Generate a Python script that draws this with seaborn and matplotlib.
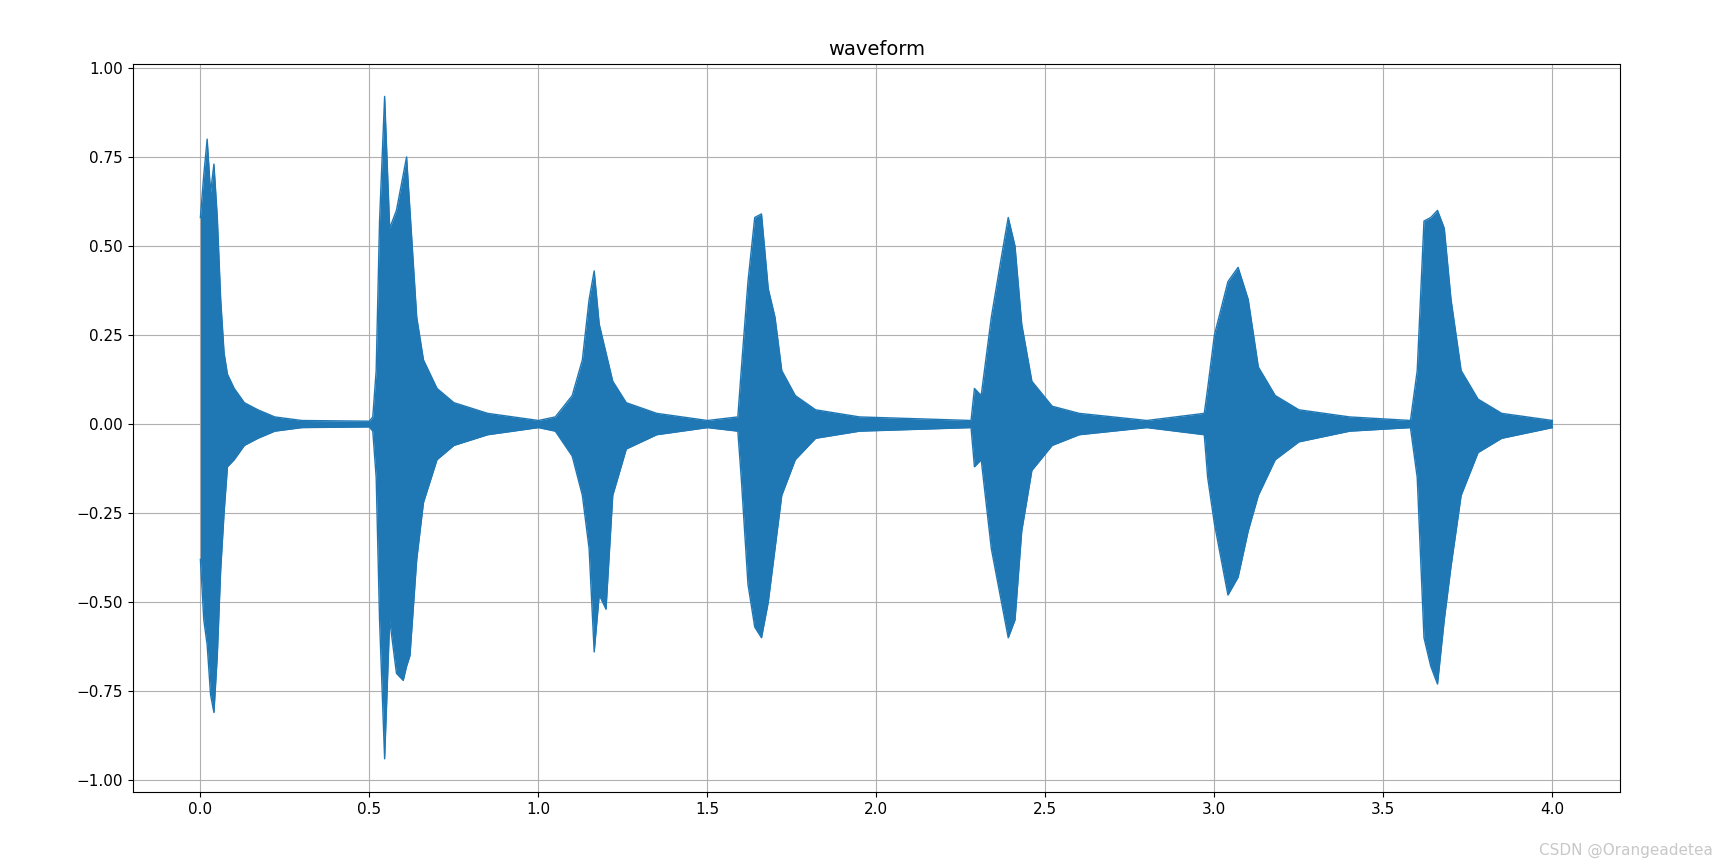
import numpy as np
import pandas as pd
import matplotlib
matplotlib.use("Agg")
import matplotlib.pyplot as plt
import seaborn as sns

# Amplitude envelope (seconds, upper, lower)
times = [0.0, 0.01, 0.02, 0.03, 0.04, 0.05, 0.06, 0.07, 0.08, 0.10, 0.13, 0.17, 0.22, 0.30, 0.50,
         0.51, 0.52, 0.53, 0.545, 0.56, 0.58, 0.60, 0.61, 0.62, 0.64, 0.66, 0.70, 0.75, 0.85, 1.00,
         1.05, 1.10, 1.13, 1.15, 1.165, 1.18, 1.20, 1.22, 1.26, 1.35, 1.50,
         1.59, 1.60, 1.62, 1.64, 1.66, 1.68, 1.70, 1.72, 1.76, 1.82, 1.95, 2.28,
         2.29, 2.31, 2.34, 2.37, 2.39, 2.41, 2.43, 2.46, 2.52, 2.60, 2.80,
         2.97, 2.98, 3.00, 3.04, 3.07, 3.10, 3.13, 3.18, 3.25, 3.40, 3.58,
         3.60, 3.62, 3.64, 3.66, 3.68, 3.70, 3.73, 3.78, 3.85, 4.00]
upper = [0.58, 0.70, 0.80, 0.65, 0.73, 0.58, 0.35, 0.20, 0.14, 0.10, 0.06, 0.04, 0.02, 0.01, 0.008,
         0.02, 0.15, 0.57, 0.92, 0.55, 0.60, 0.70, 0.75, 0.60, 0.30, 0.18, 0.10, 0.06, 0.03, 0.01,
         0.02, 0.08, 0.18, 0.35, 0.43, 0.28, 0.20, 0.12, 0.06, 0.03, 0.01,
         0.02, 0.15, 0.40, 0.58, 0.59, 0.38, 0.30, 0.15, 0.08, 0.04, 0.02, 0.01,
         0.10, 0.08, 0.30, 0.47, 0.58, 0.50, 0.28, 0.12, 0.05, 0.03, 0.01,
         0.03, 0.10, 0.25, 0.40, 0.44, 0.35, 0.16, 0.08, 0.04, 0.02, 0.01,
         0.15, 0.57, 0.58, 0.60, 0.55, 0.35, 0.15, 0.07, 0.03, 0.01]
lower = [-0.38, -0.55, -0.62, -0.76, -0.81, -0.65, -0.41, -0.25, -0.12, -0.10, -0.06, -0.04, -0.02, -0.01, -0.008,
         -0.02, -0.15, -0.55, -0.94, -0.55, -0.70, -0.72, -0.68, -0.65, -0.38, -0.22, -0.10, -0.06, -0.03, -0.01,
         -0.02, -0.09, -0.20, -0.35, -0.64, -0.48, -0.52, -0.20, -0.07, -0.03, -0.01,
         -0.02, -0.15, -0.45, -0.57, -0.60, -0.50, -0.35, -0.20, -0.10, -0.04, -0.02, -0.01,
         -0.12, -0.10, -0.35, -0.50, -0.60, -0.55, -0.30, -0.13, -0.06, -0.03, -0.01,
         -0.03, -0.15, -0.28, -0.48, -0.43, -0.30, -0.20, -0.10, -0.05, -0.02, -0.01,
         -0.15, -0.60, -0.68, -0.73, -0.55, -0.40, -0.20, -0.08, -0.04, -0.01]

df = pd.DataFrame({"t": times, "upper": upper, "lower": lower})
color = "#1f77b4"

fig, ax = plt.subplots(figsize=(17.21, 8.68), dpi=100)
fig.subplots_adjust(left=121 / 1568, right=1476 / 1568, top=1 - 58 / 791, bottom=1 - 722 / 791)

sns.lineplot(data=df, x="t", y="upper", ax=ax, color=color, linewidth=1)
sns.lineplot(data=df, x="t", y="lower", ax=ax, color=color, linewidth=1)
ax.fill_between(df["t"], df["lower"], df["upper"], color=color, linewidth=0)

ax.set_xlim(-0.2, 4.2)
ax.set_ylim(-1.034, 1.012)
ax.set_xticks(np.arange(0, 4.01, 0.5))
ax.set_yticks(np.arange(-1.0, 1.01, 0.25))
ax.set_xlabel("")
ax.set_ylabel("")
ax.set_title("waveform", fontsize=14)
ax.tick_params(labelsize=11)
ax.grid(True, color="#b0b0b0", linewidth=0.8)
ax.set_axisbelow(True)

fig.text(0.995, 1 - 782 / 791, "CSDN @Orangeadetea", ha="right", va="bottom", color="#c8c8c8", fontsize=11)

fig.savefig("out.png", dpi=100)
